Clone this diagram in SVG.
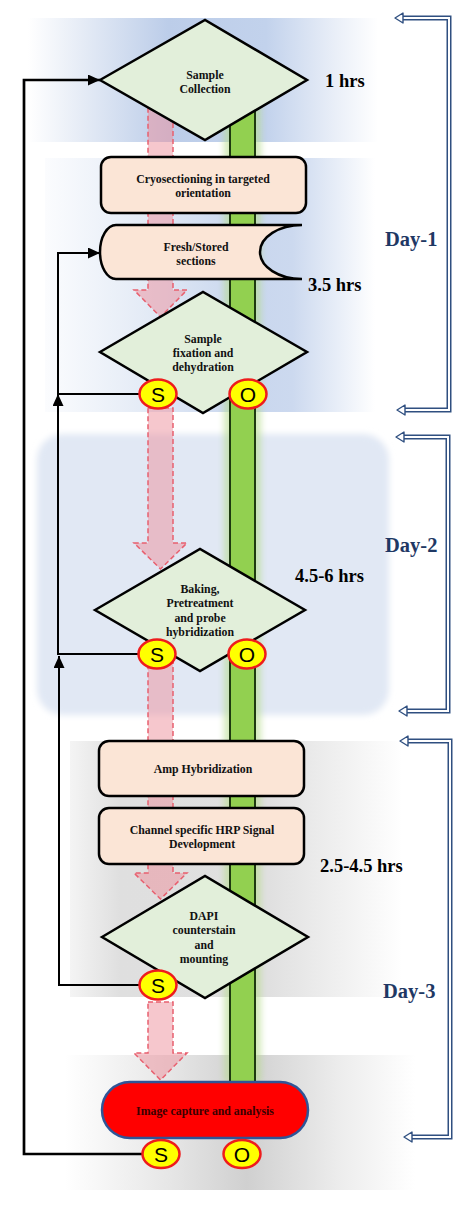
<svg xmlns="http://www.w3.org/2000/svg" width="474" height="1213" viewBox="0 0 474 1213">
<defs>
<style>
.nt{font-family:"Liberation Serif","Times New Roman",serif;font-weight:bold;font-size:11.8px;fill:#111;text-anchor:middle}
.hrs{font-family:"Liberation Serif","Times New Roman",serif;font-weight:bold;font-size:18.5px;fill:#000}
.day{font-family:"Liberation Serif","Times New Roman",serif;font-weight:bold;font-size:20.5px;fill:#1f3864}
.dia{fill:#e2efda;stroke:#000;stroke-width:2.5;stroke-linejoin:miter}
.box{fill:#fbe5d6;stroke:#000;stroke-width:2.5}
.so{fill:#ffff00;stroke:#ee1c1c;stroke-width:2.5}
.sot{font-family:"Liberation Sans",Arial,sans-serif;font-size:21px;fill:#000;text-anchor:middle}
.pink{fill:#ee8f9b;fill-opacity:0.5;stroke:#e8606f;stroke-width:1.5;stroke-dasharray:5 3}
.con{fill:none;stroke:#000;stroke-width:2}
.brk-o{fill:none;stroke:#2f4f80;stroke-width:5}
.brk-i{fill:none;stroke:#fff;stroke-width:2}
.brk-h{fill:#fff;stroke:#2f4f80;stroke-width:1.4;stroke-linejoin:round}
</style>
<linearGradient id="g1" x1="0" y1="0" x2="1" y2="0">
<stop offset="0" stop-color="#ffffff"/>
<stop offset="0.15" stop-color="#e6ecf6"/>
<stop offset="0.4" stop-color="#bccde9"/>
<stop offset="0.68" stop-color="#c2d2ec"/>
<stop offset="0.88" stop-color="#eaeff8"/>
<stop offset="1" stop-color="#ffffff"/>
</linearGradient>
<linearGradient id="g2" x1="0" y1="0" x2="1" y2="0">
<stop offset="0" stop-color="#fbfcfe"/>
<stop offset="0.3" stop-color="#e4ebf6"/>
<stop offset="0.6" stop-color="#c8d6ee"/>
<stop offset="0.75" stop-color="#ccd9ef"/>
<stop offset="1" stop-color="#ffffff"/>
</linearGradient>
<linearGradient id="g3" x1="0" y1="0" x2="1" y2="0">
<stop offset="0" stop-color="#f4f4f4"/>
<stop offset="0.15" stop-color="#dfdfdf"/>
<stop offset="0.6" stop-color="#e0e0e0"/>
<stop offset="0.85" stop-color="#f3f3f3"/>
<stop offset="1" stop-color="#ffffff"/>
</linearGradient>
<linearGradient id="g4" x1="0" y1="0" x2="1" y2="0">
<stop offset="0" stop-color="#ffffff"/>
<stop offset="0.3" stop-color="#e6e6e6"/>
<stop offset="0.52" stop-color="#d0d0d0"/>
<stop offset="0.78" stop-color="#ececec"/>
<stop offset="1" stop-color="#ffffff"/>
</linearGradient>
<filter id="soft" x="-10%" y="-10%" width="120%" height="120%"><feGaussianBlur stdDeviation="3"/></filter>
<filter id="glow" x="-50%" y="-5%" width="200%" height="110%"><feGaussianBlur stdDeviation="3"/></filter>
<marker id="ah" viewBox="0 0 12 11" refX="12" refY="5.5" markerWidth="12" markerHeight="11" markerUnits="userSpaceOnUse" orient="auto">
<path d="M0,0 L12,5.5 L0,11 Z" fill="#000"/>
</marker>
</defs>

<g id="backgrounds">
<rect x="28" y="18" width="350" height="124" fill="url(#g1)"/>
<rect x="45" y="158" width="330" height="254" fill="url(#g2)"/>
<rect x="37" y="434" width="352" height="281" rx="26" fill="#e1e8f4" filter="url(#soft)"/>
<rect x="70" y="741" width="332" height="256" fill="url(#g3)"/>
<rect x="65" y="1055" width="350" height="135" fill="url(#g4)"/>
</g>

<g id="brackets">
<path class="brk-o" d="M402,18 H449 V410 H402"/>
<path class="brk-i" d="M402,18 H449 V410 H402"/>
<path class="brk-h" d="M395,18 L403,13 L403,23 Z"/>
<path class="brk-h" d="M397,410 L405,405 L405,415 Z"/>
<path class="brk-o" d="M402,437 H448 V711 H403"/>
<path class="brk-i" d="M402,437 H448 V711 H403"/>
<path class="brk-h" d="M396,437 L404,432 L404,442 Z"/>
<path class="brk-h" d="M399,711 L407,706 L407,716 Z"/>
<path class="brk-o" d="M406,741 H450 V1137 H410"/>
<path class="brk-i" d="M406,741 H450 V1137 H410"/>
<path class="brk-h" d="M400,741 L408,736 L408,746 Z"/>
<path class="brk-h" d="M404,1137 L412,1132 L412,1142 Z"/>
</g>

<g id="labels">
<text class="hrs" x="325" y="87">1 hrs</text>
<text class="hrs" x="308" y="291">3.5 hrs</text>
<text class="hrs" x="295" y="582">4.5-6 hrs</text>
<text class="hrs" x="320" y="872">2.5-4.5 hrs</text>
<text class="day" x="385" y="246">Day-1</text>
<text class="day" x="385" y="552">Day-2</text>
<text class="day" x="383" y="998">Day-3</text>
</g>

<g id="green-track">
<rect x="224" y="95" width="37" height="987" fill="#b6dc8c" opacity="0.6" filter="url(#glow)"/>
<rect x="230" y="90" width="25" height="992" fill="#92d050" stroke="#1e3a10" stroke-width="2"/>
</g>

<g id="flow-arrows">
<path class="pink" d="M148,100 H173 V290 H187 L160.5,317 L134,290 H148 Z"/>
<path class="pink" d="M148,408 H173 V543 H187 L160.5,569 L134,543 H148 Z"/>
<path class="pink" d="M148,660 H173 V873 H187 L160.5,899 L134,873 H148 Z"/>
<path class="pink" d="M148,1002 H173 V1053 H187 L160.5,1080 L134,1053 H148 Z"/>
</g>

<g id="connectors">
<path class="con" style="stroke-width:2.7" d="M142,1154 H24 V80 H100" marker-end="url(#ah)"/>
<path class="con" d="M140,394 H58 V253 H100" marker-end="url(#ah)"/>
<path class="con" d="M139,654 H58 V394" marker-end="url(#ah)"/>
<path class="con" d="M140,985 H59 V656" marker-end="url(#ah)"/>
</g>

<g id="n-sample-collection">
<polygon class="dia" points="100,80 205,20 307,80 205,140"/>
<text class="nt" x="205" y="79">Sample</text>
<text class="nt" x="205" y="93">Collection</text>
</g>

<g id="n-cryosectioning">
<rect class="box" x="101" y="157" width="205" height="56" rx="10"/>
<text class="nt" x="203" y="183">Cryosectioning in targeted</text>
<text class="nt" x="203" y="197">orientation</text>
</g>

<g id="n-fresh-stored">
<path class="box" d="M116,225 H302 A42,27 0 0 0 302,279 H116 A16,27 0 0 1 116,225 Z"/>
<text class="nt" x="196" y="251">Fresh/Stored</text>
<text class="nt" x="196" y="265">sections</text>
</g>

<g id="n-fixation">
<polygon class="dia" points="100,352 203,292 307,352 203,413"/>
<text class="nt" x="203" y="343">Sample</text>
<text class="nt" x="203" y="357">fixation and</text>
<text class="nt" x="203" y="371">dehydration</text>
</g>

<g id="n-baking">
<polygon class="dia" points="95,610 200,549 305,610 200,671"/>
<text class="nt" x="200" y="593">Baking,</text>
<text class="nt" x="200" y="607">Pretreatment</text>
<text class="nt" x="200" y="622">and probe</text>
<text class="nt" x="200" y="636">hybridization</text>
</g>

<g id="n-amp">
<rect class="box" x="99" y="741" width="205" height="55" rx="10"/>
<text class="nt" x="203" y="773">Amp Hybridization</text>
</g>

<g id="n-channel">
<rect class="box" x="99" y="808" width="205" height="56" rx="10"/>
<text class="nt" x="202" y="834">Channel specific HRP Signal</text>
<text class="nt" x="202" y="848">Development</text>
</g>

<g id="n-dapi">
<polygon class="dia" points="102,937 205,876 308,937 205,998"/>
<text class="nt" x="204" y="920">DAPI</text>
<text class="nt" x="204" y="934">counterstain</text>
<text class="nt" x="204" y="949">and</text>
<text class="nt" x="204" y="963">mounting</text>
</g>

<g id="n-image">
<rect x="102" y="1082" width="206" height="56" rx="28" fill="#ff0000" stroke="#2f5597" stroke-width="2.5"/>
<text class="nt" x="205" y="1115" style="fill:#3a0000">Image capture and analysis</text>
</g>

<g id="so-markers">
<ellipse class="so" cx="158" cy="394" rx="18.5" ry="14.5"/><text class="sot" x="158" y="401.5">S</text>
<ellipse class="so" cx="248" cy="394" rx="18.5" ry="14.5"/><text class="sot" x="248" y="401.5">O</text>
<ellipse class="so" cx="157" cy="654" rx="18.5" ry="14.5"/><text class="sot" x="157" y="661.5">S</text>
<ellipse class="so" cx="247" cy="654" rx="18.5" ry="14.5"/><text class="sot" x="247" y="661.5">O</text>
<ellipse class="so" cx="158" cy="985" rx="18.5" ry="14.5"/><text class="sot" x="158" y="992.5">S</text>
<ellipse class="so" cx="161" cy="1154" rx="18.5" ry="14"/><text class="sot" x="161" y="1161.5">S</text>
<ellipse class="so" cx="242" cy="1154" rx="18.5" ry="14"/><text class="sot" x="242" y="1161.5">O</text>
</g>
</svg>
